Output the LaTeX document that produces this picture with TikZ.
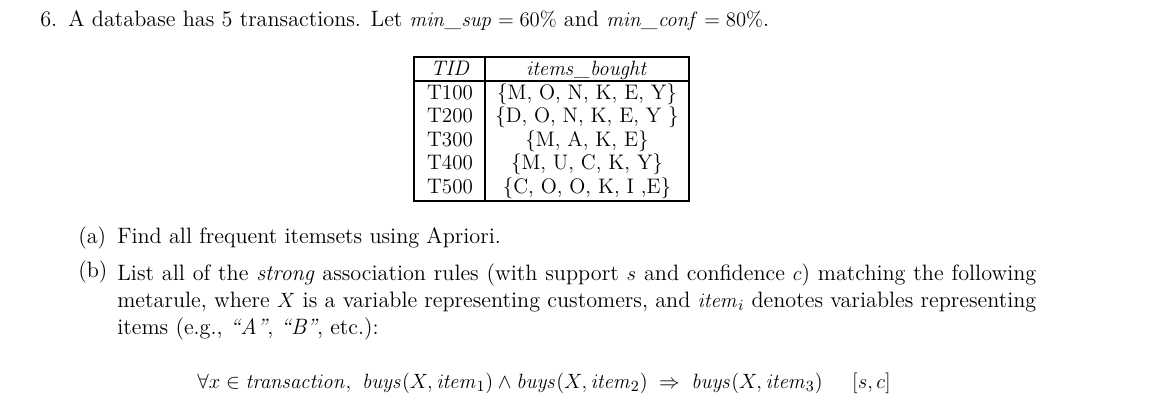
\documentclass[tikz,border=0pt]{standalone}
\begin{document}
\begin{tikzpicture}[x=0.58pt,y=-0.58pt,
  txt/.style={anchor=base west,inner sep=0pt,font=\fontsize{12.9}{15}\selectfont},
  cell/.style={anchor=base,inner sep=0pt,font=\fontsize{12.2}{15}\selectfont},
  rule/.style={line width=0.7pt}]
\useasboundingbox (0,0) rectangle (1151,404);
\node[txt] (num) at (40,26) {6.};
\node[txt] (intro) at (68,26) {A database has 5 transactions. Let $\mathit{min}\textit{\_}\mathit{sup}=60\%$ and $\mathit{min}\textit{\_}\mathit{conf}=80\%$.};
% table
\coordinate (tl) at (414,57); \coordinate (br) at (689,201);
\draw[rule] (tl) rectangle (br);
\coordinate (h1) at (414,81); \coordinate (h2) at (689,81);
\draw[rule] (h1) -- (h2);
\coordinate (d1) at (485,57); \coordinate (d2) at (485,201);
\draw[rule] (d1) -- (d2);
\node[cell] (th1) at (450,75) {\textit{TID}};
\node[cell] (th2) at (587,75) {$\mathit{items}\textit{\_}\mathit{bought}$};
\node[cell] (r1a) at (450,99) {T100}; \node[cell] (r1b) at (587,99) {\{M, O, N, K, E, Y\}};
\node[cell] (r2a) at (450,122) {T200}; \node[cell] (r2b) at (587,122) {\{D, O, N, K, E, Y \}};
\node[cell] (r3a) at (450,146) {T300}; \node[cell] (r3b) at (587,146) {\{M, A, K, E\}};
\node[cell] (r4a) at (450,169) {T400}; \node[cell] (r4b) at (587,169) {\{M, U, C, K, Y\}};
\node[cell] (r5a) at (450,193) {T500}; \node[cell] (r5b) at (587,193) {\{C, O, O, K, I ,E\}};
% questions
\node[txt] (qa) at (78,243) {(a)};
\node[txt] (qat) at (117,243) {Find all frequent itemsets using Apriori.};
\node[txt] (qb) at (78,277) {(b)};
\node[anchor=north west,inner sep=0pt,text width=919*0.58pt,align=justify,font=\fontsize{12.9}{15.7}\selectfont] (qbt) at (117,263)
 {List all of the \textit{strong} association rules (with support $s$ and confidence $c$) matching the following metarule, where $X$ is a variable representing customers, and $\mathit{item}_i$ denotes variables representing items (e.g., \textit{``A''}, \textit{``B''}, etc.):};
\node[txt] (rule) at (197,388) {$\forall x\in \mathit{transaction},\ \mathit{buys}(X,\mathit{item}_1)\wedge \mathit{buys}(X,\mathit{item}_2)\;\Rightarrow\; \mathit{buys}(X,\mathit{item}_3)\quad\ [s,c]$};
\end{tikzpicture}
\end{document}
